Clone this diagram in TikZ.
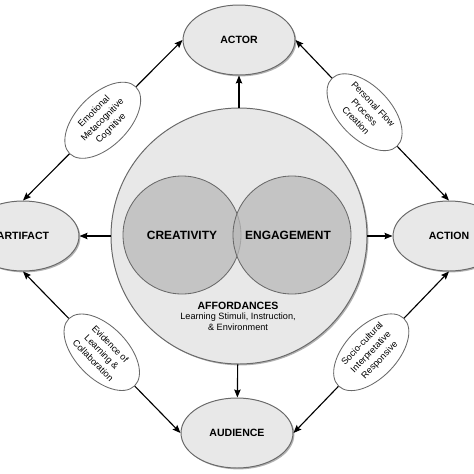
\documentclass[tikz,border=0pt]{standalone}
\usepackage{fontspec}
\setmainfont{Liberation Sans}
\usepackage{tikz}
\usetikzlibrary{shapes, arrows.meta, shadows, positioning}
\definecolor{rimgray}{RGB}{105,105,105}
\definecolor{fillgray}{RGB}{232,232,232}
\definecolor{venngray}{RGB}{184,184,184}

\begin{document}
\begin{tikzpicture}[x=0.05cm, y=-0.05cm,
	>={Stealth[length=4mm, width=3.2mm, inset=0.6mm]},
	main/.style={ellipse, draw=rimgray, line width=1.4pt, fill=fillgray, minimum width=5.6cm, minimum height=3.5cm, font=\fontsize{15}{18}\selectfont\bfseries, drop shadow={shadow xshift=2pt, shadow yshift=-2pt, fill=black, opacity=0.3}},
	venn/.style={circle, draw=rimgray, line width=1.2pt, fill=venngray, fill opacity=0.75, text opacity=1, minimum size=5.9cm, font=\fontsize{17}{20}\selectfont\bfseries},
	tag/.style={ellipse, draw=rimgray, line width=1.2pt, fill=white, minimum width=4.7cm, minimum height=2.6cm, inner sep=0pt, align=center, sloped, font=\fontsize{13}{17}\selectfont},
	link/.style={line width=1.6pt, ->}]
	
	\useasboundingbox (0,0) rectangle (474,474);
	
	% outer nodes
	\node[main] (actor) at (239,40) {ACTOR};
	\node[main] (artifact) at (23,236) {ARTIFACT};
	\node[main] (action) at (449,236) {ACTION};
	\node[main] (audience) at (237,433) {AUDIENCE};
	
	% centre
	\node[circle, draw=rimgray, line width=1.4pt, fill=fillgray, minimum size=12.8cm, drop shadow={shadow xshift=2pt, shadow yshift=-2pt, fill=black, opacity=0.3}] (afford) at (239,236) {};
	\node[venn] (creat) at (182,235) {CREATIVITY};
	\node[venn] (engage) at (292,235) {};
	\node[font=\fontsize{17}{20}\selectfont\bfseries] (engtext) at (288,235) {ENGAGEMENT};
	\node[align=center, font=\fontsize{13}{15}\selectfont] (afftext) at (238,316) {{\fontsize{15}{18}\selectfont\bfseries AFFORDANCES}\\Learning Stimuli, Instruction,\\\& Environment};
	
	\draw[link] (afford) -- (actor);
	\draw[link] (afford) -- (artifact);
	\draw[link] (afford) -- (action);
	\draw[link] (afford) -- (audience);
	
	% diagonals
	\draw[link, <->] (artifact.north) -- node[tag] (emo) {Emotional\\Metacognitive\\Cognitive} (actor.west);
	\draw[link, <->] (actor.east) -- node[tag, pos=0.45] (pers) {Personal Flow\\Process\\Creation} (action.north);
	\draw[link, <->] (artifact.south) -- node[tag] (evid) {Evidence of\\Learning \&\\Collaboration} (audience.west);
	\draw[link, <->] (action.south) -- node[tag] (socio) {Socio-cultural\\Interpretative\\Responsive} (audience.east);
\end{tikzpicture}
\end{document}
